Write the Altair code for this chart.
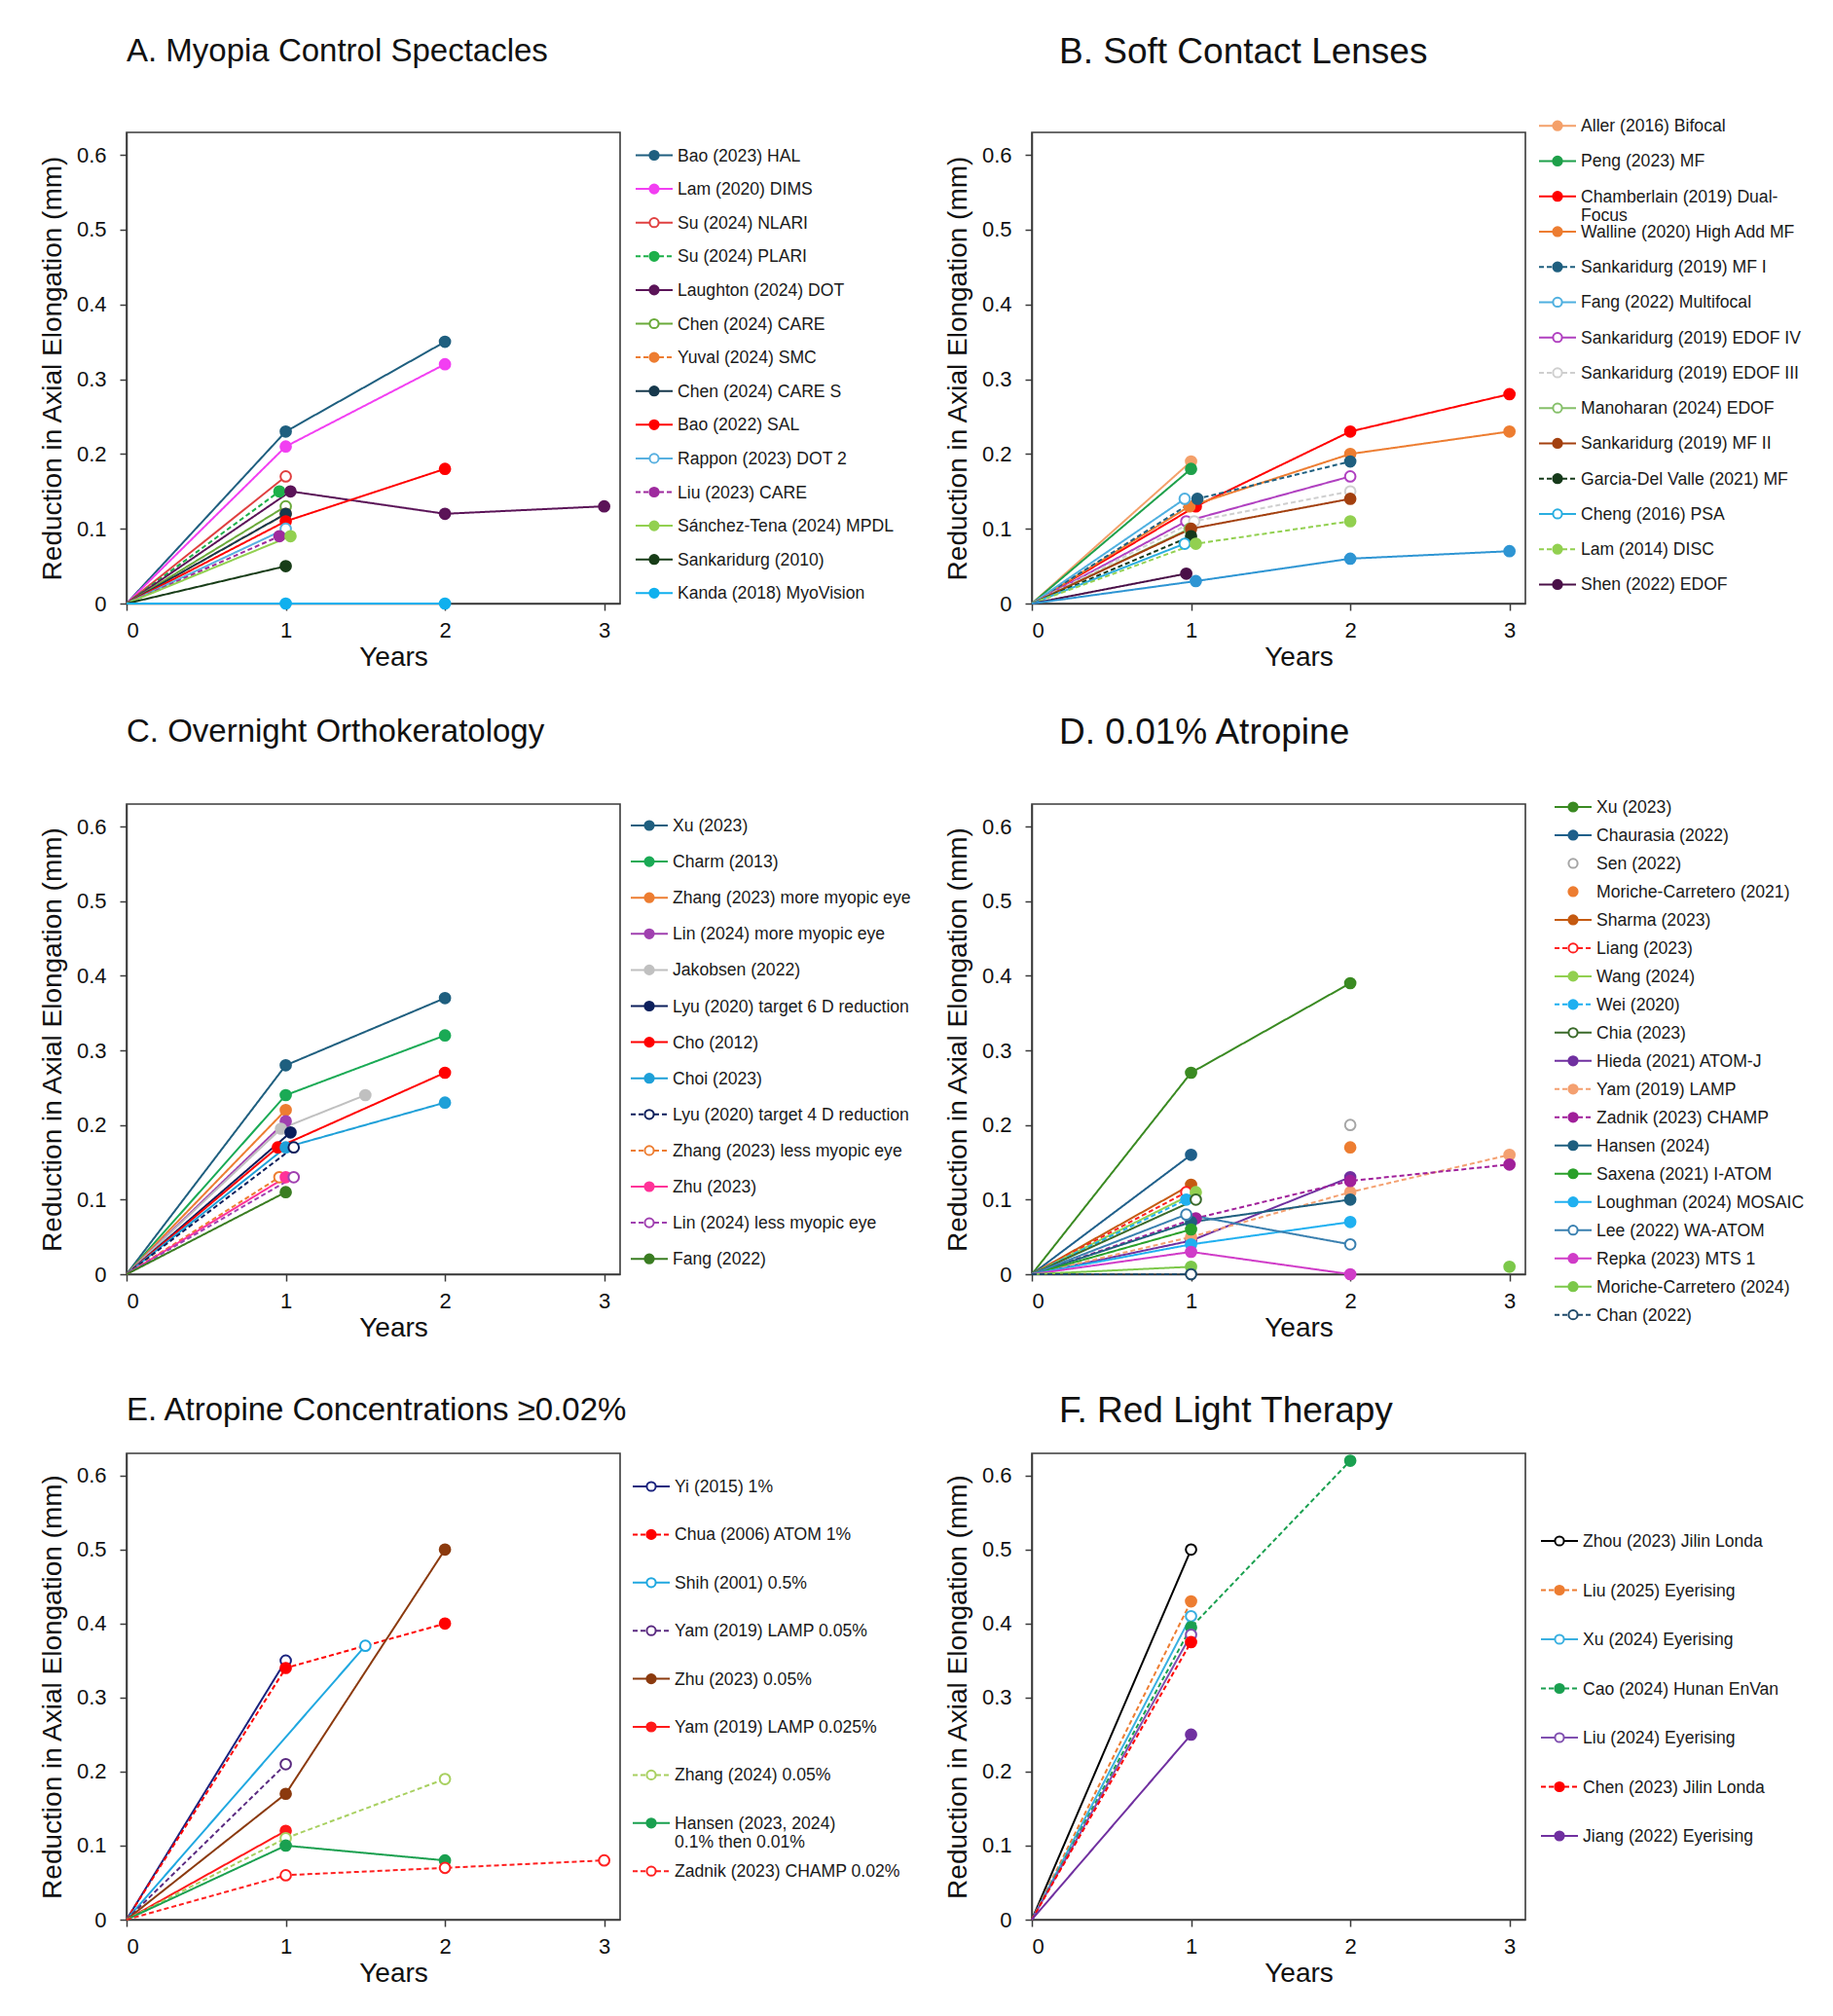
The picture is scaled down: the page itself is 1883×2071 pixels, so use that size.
import altair as alt
import pandas as pd

FONT = "Liberation Sans"
T, F = True, False

# ---------------- Panel A: Myopia Control Spectacles ----------------
A_title = "A. Myopia Control Spectacles"
A_names = ["Bao (2023) HAL", "Lam (2020) DIMS", "Su (2024) NLARI", "Su (2024) PLARI",
           "Laughton (2024) DOT", "Chen (2024) CARE", "Yuval (2024) SMC", "Chen (2024) CARE S",
           "Bao (2022) SAL", "Rappon (2023) DOT 2", "Liu (2023) CARE", "Sánchez-Tena (2024) MPDL",
           "Sankaridurg (2010)", "Kanda (2018) MyoVision"]
A_x = [[0, 1, 2], [0, 1, 2], [0, 1], [0, 0.96], [0, 1.03, 2, 3], [0, 1], [0, 1], [0, 1],
       [0, 1, 2], [0, 1], [0, 0.96], [0, 1.03], [0, 1], [0, 1, 2]]
A_y = [[0, 0.23, 0.35], [0, 0.21, 0.32], [0, 0.17], [0, 0.15], [0, 0.15, 0.12, 0.13], [0, 0.13],
       [0, 0.12], [0, 0.12], [0, 0.11, 0.18], [0, 0.10], [0, 0.09], [0, 0.09], [0, 0.05], [0, 0, 0]]
A_colors = ["#1f5f7f", "#f23ff2", "#e04040", "#1db04a", "#5b1458", "#6aaa3a", "#ed7d31",
            "#17394d", "#ff0000", "#58b0e0", "#9e2a9e", "#92d050", "#183d18", "#10b0ee"]
A_dash = [F, F, F, T, F, F, T, F, F, F, T, F, F, F]
A_open = [F, F, T, F, F, T, F, F, F, T, F, F, F, F]
A_line = [T] * 14

# ---------------- Panel B: Soft Contact Lenses ----------------
B_title = "B. Soft Contact Lenses"
B_names = ["Aller (2016) Bifocal", "Peng (2023) MF", "Chamberlain (2019) Dual-\nFocus",
           "Walline (2020) High Add MF", "Sankaridurg (2019) MF I", "Fang (2022) Multifocal",
           "Sankaridurg (2019) EDOF IV", "Sankaridurg (2019) EDOF III", "Manoharan (2024) EDOF",
           "Sankaridurg (2019) MF II", "Garcia-Del Valle (2021) MF", "Cheng (2016) PSA",
           "Lam (2014) DISC", "Shen (2022) EDOF"]
B_x = [[0, 1], [0, 1], [0, 1.03, 2, 3], [0, 0.99, 2, 3], [0, 1.04, 2], [0, 0.96], [0, 0.97, 2],
       [0, 1.02, 2], [0, 0.99], [0, 1, 2], [0, 1], [0, 0.96], [0, 1.03, 2], [0, 0.97]]
B_y = [[0, 0.19], [0, 0.18], [0, 0.13, 0.23, 0.28], [0, 0.13, 0.20, 0.23], [0, 0.14, 0.19],
       [0, 0.14], [0, 0.11, 0.17], [0, 0.11, 0.15], [0, 0.10], [0, 0.10, 0.14], [0, 0.09],
       [0, 0.08], [0, 0.08, 0.11], [0, 0.04]]
B_colors = ["#f4a06a", "#1ea04a", "#ff0000", "#ed7d31", "#1f5f7f", "#4fb0e0", "#b040c0",
            "#cfcfcf", "#86c06a", "#a3400f", "#163a1a", "#2aaee0", "#92d050", "#4a1048"]
B_dash = [F, F, F, F, T, F, F, T, F, F, T, F, T, F]
B_open = [F, F, F, F, F, T, T, T, T, F, F, T, F, F]
B_line = [T] * 14
# unlabeled series visible in the plot
B_extra_x = [[0, 1.03, 2, 3]]
B_extra_y = [[0, 0.03, 0.06, 0.07]]
B_extra_colors = ["#2e95d3"]

# ---------------- Panel C: Overnight Orthokeratology ----------------
C_title = "C. Overnight Orthokeratology"
C_names = ["Xu (2023)", "Charm (2013)", "Zhang (2023) more myopic eye", "Lin (2024) more myopic eye",
           "Jakobsen (2022)", "Lyu (2020) target 6 D reduction", "Cho (2012)", "Choi (2023)",
           "Lyu (2020) target 4 D reduction", "Zhang (2023) less myopic eye", "Zhu (2023)",
           "Lin (2024) less myopic eye", "Fang (2022)"]
C_x = [[0, 1, 2], [0, 1, 2], [0, 1], [0, 1], [0, 0.97, 1.5], [0, 1.03], [0, 0.95, 2], [0, 1, 2],
       [0, 1.05], [0, 0.96], [0, 1], [0, 1.05], [0, 1]]
C_y = [[0, 0.28, 0.37], [0, 0.24, 0.32], [0, 0.22], [0, 0.205], [0, 0.195, 0.24], [0, 0.19],
       [0, 0.17, 0.27], [0, 0.17, 0.23], [0, 0.17], [0, 0.13], [0, 0.13], [0, 0.13], [0, 0.11]]
C_colors = ["#1f5f7f", "#1aaa55", "#ed7d31", "#a040b0", "#c0c0c0", "#0c1f5c", "#ff0000",
            "#1fa0d8", "#0c1f5c", "#ed7d31", "#ff3399", "#a040b0", "#3a7d22"]
C_dash = [F, F, F, F, F, F, F, F, T, T, F, T, F]
C_open = [F, F, F, F, F, F, F, F, T, T, F, T, F]
C_line = [T] * 13

# ---------------- Panel D: 0.01% Atropine ----------------
D_title = "D. 0.01% Atropine"
D_names = ["Xu (2023)", "Chaurasia (2022)", "Sen (2022)", "Moriche-Carretero (2021)", "Sharma (2023)",
           "Liang (2023)", "Wang (2024)", "Wei (2020)", "Chia (2023)", "Hieda (2021) ATOM-J",
           "Yam (2019) LAMP", "Zadnik (2023) CHAMP", "Hansen (2024)", "Saxena (2021) I-ATOM",
           "Loughman (2024) MOSAIC", "Lee (2022) WA-ATOM", "Repka (2023) MTS 1",
           "Moriche-Carretero (2024)", "Chan (2022)"]
D_x = [[0, 1, 2], [0, 1], [2], [2], [0, 1], [0, 0.97], [0, 1.03], [0, 0.97], [0, 1.03], [0, 1, 2],
       [0, 1, 2, 3], [0, 1.03, 2, 3], [0, 1, 2], [0, 1], [0, 1, 2], [0, 0.97, 2], [0, 1, 2],
       [0, 1], [0, 1]]
D_y = [[0, 0.27, 0.39], [0, 0.16], [0.20], [0.17], [0, 0.12], [0, 0.11], [0, 0.11], [0, 0.10],
       [0, 0.10], [0, 0.045, 0.13], [0, 0.05, 0.11, 0.16], [0, 0.075, 0.125, 0.147],
       [0, 0.07, 0.10], [0, 0.06], [0, 0.04, 0.07], [0, 0.08, 0.04], [0, 0.03, 0.0], [0, 0.01],
       [0, 0.0]]
D_colors = ["#3a8a22", "#1f5f8a", "#a6a6a6", "#ed7d31", "#c55a11", "#ff2020", "#92d050",
            "#1fb0f0", "#3a6a2a", "#7030a0", "#f4a070", "#a0209a", "#1f5f7f", "#2aa02a",
            "#20b0f0", "#3a80b0", "#d03cc8", "#7cc84a", "#1f4a6a"]
D_dash = [F, F, F, F, F, T, F, T, F, F, T, T, F, F, F, F, F, F, T]
D_open = [F, F, T, F, F, T, F, F, T, F, F, F, F, F, F, T, F, F, T]
D_line = [T, T, F, F, T, T, T, T, T, T, T, T, T, T, T, T, T, T, T]
# lone 3-year marker of the light-green series
D_extra_x = [[3]]
D_extra_y = [[0.01]]
D_extra_colors = ["#7cc84a"]

# ---------------- Panel E: Atropine >= 0.02% ----------------
E_title = "E. Atropine Concentrations ≥0.02%"
E_names = ["Yi (2015) 1%", "Chua (2006) ATOM 1%", "Shih (2001) 0.5%", "Yam (2019) LAMP 0.05%",
           "Zhu (2023) 0.05%", "Yam (2019) LAMP 0.025%", "Zhang (2024) 0.05%",
           "Hansen (2023, 2024)\n0.1% then 0.01%", "Zadnik (2023) CHAMP 0.02%"]
E_x = [[0, 1], [0, 1, 2], [0, 1.5], [0, 1], [0, 1, 2], [0, 1], [0, 1, 2], [0, 1, 2], [0, 1, 2, 3]]
E_y = [[0, 0.35], [0, 0.34, 0.40], [0, 0.37], [0, 0.21], [0, 0.17, 0.50], [0, 0.12],
       [0, 0.11, 0.19], [0, 0.10, 0.08], [0, 0.06, 0.07, 0.08]]
E_colors = ["#1a237e", "#ff0000", "#20a8e0", "#5a2a80", "#8b3a0e", "#ff1a1a", "#a8d060",
            "#1aa050", "#ff2020"]
E_dash = [F, T, F, T, F, F, T, F, T]
E_open = [T, F, T, T, F, F, T, F, T]
E_line = [T] * 9

# ---------------- Panel F: Red Light Therapy ----------------
F_title = "F. Red Light Therapy"
F_names = ["Zhou (2023) Jilin Londa", "Liu (2025) Eyerising", "Xu (2024) Eyerising",
           "Cao (2024) Hunan EnVan", "Liu (2024) Eyerising", "Chen (2023) Jilin Londa",
           "Jiang (2022) Eyerising"]
F_x = [[0, 1], [0, 1], [0, 1], [0, 1, 2], [0, 1], [0, 1], [0, 1]]
F_y = [[0, 0.50], [0, 0.43], [0, 0.41], [0, 0.395, 0.62], [0, 0.385], [0, 0.375], [0, 0.25]]
F_colors = ["#000000", "#ed7d31", "#3ab0e0", "#1aa050", "#8050b0", "#ff0000", "#7030a0"]
F_dash = [F, T, F, T, F, T, F]
F_open = [T, F, T, F, T, F, F]
F_line = [T] * 7

Y_TICKS = [0, 0.1, 0.2, 0.3, 0.4, 0.5, 0.6]
X_TICKS = [0, 1, 2, 3]
DASH_SCALE = alt.Scale(domain=["solid", "dash"], range=[[1, 0], [5, 3]])
LEG_FS = 17.6


def series_frame(names, xs, ys, colors, dashes, opens, lines,
                 ex_x=(), ex_y=(), ex_colors=()):
    rows = []
    for i, name in enumerate(names):
        for j, (xv, yv) in enumerate(zip(xs[i], ys[i])):
            rows.append({"series": i, "x": xv, "y": yv, "k": j, "color": colors[i],
                         "dash": "dash" if dashes[i] else "solid",
                         "fill": "#ffffff" if opens[i] else colors[i], "line": bool(lines[i])})
    for m, col in enumerate(ex_colors):
        for j, (xv, yv) in enumerate(zip(ex_x[m], ex_y[m])):
            rows.append({"series": 100 + m, "x": xv, "y": yv, "k": j, "color": col,
                         "dash": "solid", "fill": col, "line": len(ex_x[m]) > 1})
    return pd.DataFrame(rows)


def panel(df, title, dx, offset, h, tsize):
    xs = alt.Scale(domain=[0, 3.1], nice=False, zero=False)
    ys = alt.Scale(domain=[0, 0.63], nice=False, zero=False)
    xax = alt.Axis(values=X_TICKS, format="d", title="Years", titleX=274, grid=False)
    yax = alt.Axis(values=Y_TICKS, format=".1~f", title="Reduction in Axial Elongation (mm)",
                   grid=False)
    base = alt.Chart(df)
    lines = base.transform_filter("datum.line").mark_line(strokeWidth=2).encode(
        x=alt.X("x:Q", scale=xs, axis=xax),
        y=alt.Y("y:Q", scale=ys, axis=yax),
        detail="series:N",
        order="k:Q",
        color=alt.Color("color:N", scale=None),
        strokeDash=alt.StrokeDash("dash:N", scale=DASH_SCALE, legend=None),
    )
    pts = base.transform_filter("datum.x > 0").mark_point(
        shape="circle", size=115, filled=True, strokeWidth=2, opacity=1).encode(
        x=alt.X("x:Q", scale=xs),
        y=alt.Y("y:Q", scale=ys),
        fill=alt.Fill("fill:N", scale=None),
        stroke=alt.Stroke("color:N", scale=None),
    )
    return alt.layer(lines, pts).properties(
        width=507, height=h,
        title=alt.TitleParams(text=title, anchor="start", frame="group", dx=dx, offset=offset,
                              baseline="bottom", fontSize=tsize, font=FONT, fontWeight="normal",
                              color="#111111"),
        view=alt.ViewBackground(stroke="#3a3a3a", strokeWidth=1.6),
    )


def legend(names, colors, dashes, opens, lines, x0, y0, step, w, h):
    rows = []
    for i, name in enumerate(names):
        rows.append({"label": name, "yp": y0 + i * step, "xa": x0, "xb": x0 + 38,
                     "xm": x0 + 19, "xt": x0 + 43, "color": colors[i],
                     "dash": "dash" if dashes[i] else "solid",
                     "fill": "#ffffff" if opens[i] else colors[i], "line": bool(lines[i])})
    df = pd.DataFrame(rows)
    xs = alt.Scale(domain=[0, w], nice=False, zero=False)
    ys = alt.Scale(domain=[0, h], nice=False, zero=False, reverse=True)
    base = alt.Chart(df)
    rule = base.transform_filter("datum.line").mark_rule(strokeWidth=2).encode(
        x=alt.X("xa:Q", scale=xs, axis=None),
        x2="xb:Q",
        y=alt.Y("yp:Q", scale=ys, axis=None),
        color=alt.Color("color:N", scale=None),
        strokeDash=alt.StrokeDash("dash:N", scale=DASH_SCALE, legend=None),
    )
    pts = base.mark_point(shape="circle", size=85, filled=True, strokeWidth=2, opacity=1).encode(
        x=alt.X("xm:Q", scale=xs, axis=None),
        y=alt.Y("yp:Q", scale=ys, axis=None),
        fill=alt.Fill("fill:N", scale=None),
        stroke=alt.Stroke("color:N", scale=None),
    )
    txt = base.mark_text(align="left", baseline="alphabetic", dy=6, fontSize=LEG_FS, font=FONT,
                         color="#1a1a1a", lineBreak="\n", lineHeight=19).encode(
        x=alt.X("xt:Q", scale=xs, axis=None),
        y=alt.Y("yp:Q", scale=ys, axis=None),
        text="label:N",
    )
    return alt.layer(rule, pts, txt).properties(
        width=w, height=h, view=alt.ViewBackground(stroke="transparent"))


LW, RW = 403, 290   # legend column widths
H1, H2, H3 = 484, 483, 479
LH1 = 506
TL, TR = 33, 37     # title sizes, left and right columns

pA = panel(series_frame(A_names, A_x, A_y, A_colors, A_dash, A_open, A_line), A_title, 0, 33, H1, TL)
pB = panel(series_frame(B_names, B_x, B_y, B_colors, B_dash, B_open, B_line,
                        B_extra_x, B_extra_y, B_extra_colors), B_title, 28, 26, H1, TR)
pC = panel(series_frame(C_names, C_x, C_y, C_colors, C_dash, C_open, C_line), C_title, 0, 24, H2, TL)
pD = panel(series_frame(D_names, D_x, D_y, D_colors, D_dash, D_open, D_line,
                        D_extra_x, D_extra_y, D_extra_colors), D_title, 28, 17.5, H2, TR)
pE = panel(series_frame(E_names, E_x, E_y, E_colors, E_dash, E_open, E_line), E_title, 0, -5.5, H3, TL)
pF = panel(series_frame(F_names, F_x, F_y, F_colors, F_dash, F_open, F_line), F_title, 28, -15, H3, TR)

lA = legend(A_names, A_colors, A_dash, A_open, A_line, 6, 23.5, 34.6, LW, LH1)
lB = legend(B_names, B_colors, B_dash, B_open, B_line, 4, -6.8, 36.25, RW, LH1)
lC = legend(C_names, C_colors, C_dash, C_open, C_line, 1, 22, 37.1, LW, H2)
lD = legend(D_names, D_colors, D_dash, D_open, D_line, 20, 3, 28.98, RW, H2)
lE = legend(E_names, E_colors, E_dash, E_open, E_line, 3, 34, 49.4, LW, H3)
lF = legend(F_names, F_colors, F_dash, F_open, F_line, 6, 90, 50.5, RW, H3)

chart = alt.concat(
    pA, lA, pB, lB, pC, lC, pD, lD, pE, lE, pF, lF,
    columns=4, spacing={"row": 184, "column": 10}, bounds="flush", align="each",
).properties(
    padding={"left": 39, "top": 34, "right": 5, "bottom": 5},
    background="white",
).configure_axis(
    labelFont=FONT, titleFont=FONT, labelFontSize=22, titleFontSize=28,
    titleFontWeight="normal", labelColor="#111111", titleColor="#111111",
    tickSize=7, tickWidth=1.5, tickColor="#3a3a3a", domainColor="#3a3a3a", domainWidth=1.5,
    grid=False,
).configure_axisX(
    labelPadding=10, titlePadding=3,
).configure_axisY(
    labelPadding=14, titlePadding=10,
)

chart.save("out.html", embed_options={"renderer": "svg", "actions": False})
